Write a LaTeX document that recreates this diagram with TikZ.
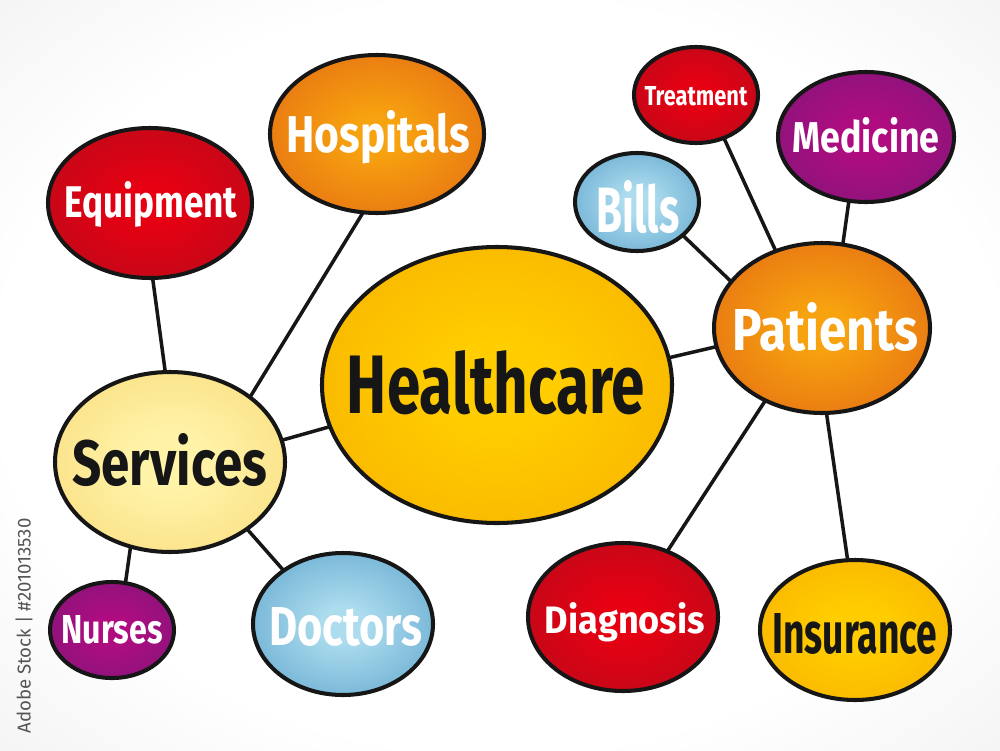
\documentclass[tikz,border=0pt]{standalone}
\usepackage{fontspec}
\setmainfont{Fira Sans}
\usetikzlibrary{shapes.geometric}
\newlength\px \setlength\px{0.2mm}
\definecolor{redin}{HTML}{E60012}\definecolor{redout}{HTML}{A3101F}
\definecolor{orin}{HTML}{F7A20F}\definecolor{orout}{HTML}{DA4F16}
\definecolor{ylin}{HTML}{FFCD00}\definecolor{ylout}{HTML}{F4A200}
\definecolor{plin}{HTML}{FFF3A8}\definecolor{plout}{HTML}{F6CF66}
\definecolor{puin}{HTML}{B00C80}\definecolor{puout}{HTML}{6B1A77}
\definecolor{blin}{HTML}{ACDCEE}\definecolor{blout}{HTML}{3C8BBD}
\definecolor{bgout}{HTML}{E6E6E6}
\definecolor{ink}{HTML}{161616}
\definecolor{wmgray}{HTML}{555555}
\pgfdeclareradialshading{redsh}{\pgfpoint{0bp}{0bp}}{color(0bp)=(redin); color(6bp)=(redin); color(50bp)=(redout)}
\pgfdeclareradialshading{orsh}{\pgfpoint{0bp}{0bp}}{color(0bp)=(orin); color(6bp)=(orin); color(50bp)=(orout)}
\pgfdeclareradialshading{ylsh}{\pgfpoint{0bp}{0bp}}{color(0bp)=(ylin); color(8bp)=(ylin); color(50bp)=(ylout)}
\pgfdeclareradialshading{plsh}{\pgfpoint{0bp}{0bp}}{color(0bp)=(plin); color(8bp)=(plin); color(50bp)=(plout)}
\pgfdeclareradialshading{push}{\pgfpoint{0bp}{0bp}}{color(0bp)=(puin); color(6bp)=(puin); color(50bp)=(puout)}
\pgfdeclareradialshading{blsh}{\pgfpoint{0bp}{0bp}}{color(0bp)=(blin); color(6bp)=(blin); color(50bp)=(blout)}
\pgfdeclareradialshading{bgsh}{\pgfpoint{0bp}{0bp}}{color(0bp)=(white); color(25bp)=(white); color(50bp)=(bgout)}
\pgfdeclarelayer{bgl}\pgfdeclarelayer{lnk}\pgfsetlayers{bgl,lnk,main}
\tikzset{
  bubble/.style={ellipse, draw=ink, line width=2.3pt, inner sep=0pt, outer sep=0pt},
  link/.style={draw=ink, line width=2pt},
  wlab/.style={text=white, font=\bfseries, anchor=base, inner sep=0pt, outer sep=0pt},
  blab/.style={text=ink, font=\bfseries, anchor=base, inner sep=0pt, outer sep=0pt}
}
\newcommand\fitlab[3]{\resizebox{#1\px}{#2\px}{#3}}
\begin{document}
\begin{tikzpicture}[x=0.2mm, y=-0.2mm]
\useasboundingbox (0,0) rectangle (1000,750);
\begin{pgfonlayer}{bgl}
\shade[shading=bgsh] (0,0) rectangle (1000,750);
\end{pgfonlayer}
% bubbles
\node[bubble, shading=ylsh, minimum width=350\px, minimum height=276\px] (hc) at (497,385) {};
\node[bubble, shading=plsh, minimum width=230\px, minimum height=180\px] (serv) at (170,462) {};
\node[bubble, shading=orsh, minimum width=214\px, minimum height=158\px] (hosp) at (377,134) {};
\node[bubble, shading=redsh, minimum width=204\px, minimum height=150\px] (equip) at (150,203) {};
\node[bubble, shading=push, minimum width=124\px, minimum height=96\px] (nurse) at (112,630) {};
\node[bubble, shading=blsh, minimum width=180\px, minimum height=142\px] (doc) at (343,624) {};
\node[bubble, shading=orsh, minimum width=216\px, minimum height=170\px] (pat) at (822,328) {};
\node[bubble, shading=redsh, minimum width=124\px, minimum height=96\px] (treat) at (696,95) {};
\node[bubble, shading=push, minimum width=176\px, minimum height=130\px] (med) at (866,137) {};
\node[bubble, shading=blsh, minimum width=124\px, minimum height=98\px] (bill) at (637,202) {};
\node[bubble, shading=redsh, minimum width=190\px, minimum height=148\px] (diag) at (623,617) {};
\node[bubble, shading=ylsh, minimum width=190\px, minimum height=140\px] (ins) at (855,630) {};
% labels
\node[blab] (hcT) at (496,413) {\fitlab{298}{63}{Healthcare}};
\node[blab] (servT) at (170,485) {\fitlab{195}{52}{Services}};
\node[wlab] (hospT) at (378,152) {\fitlab{183}{42}{Hospitals}};
\node[wlab] (equipT) at (151,217) {\fitlab{173}{36}{Equipment}};
\node[wlab] (nurseT) at (112,643) {\fitlab{101}{28}{Nurses}};
\node[wlab] (docT) at (346,645) {\fitlab{153}{38}{Doctors}};
\node[wlab] (patT) at (825,350) {\fitlab{186}{48}{Patients}};
\node[wlab] (treatT) at (696,105) {\fitlab{103}{19}{Treatment}};
\node[wlab] (medT) at (866,152) {\fitlab{147}{35}{Medicine}};
\node[wlab] (billT) at (638,232) {\fitlab{83}{52}{Bills}};
\node[wlab] (diagT) at (625,633) {\fitlab{160}{31}{Diagnosis}};
\node[blab] (insT) at (855,653) {\fitlab{165}{40}{Insurance}};
% watermark
\node[rotate=90, text=wmgray, inner sep=0pt] (wm) at (24,626) {\resizebox{215\px}{!}{Adobe Stock | \#201013530}};
% connectors
\begin{pgfonlayer}{lnk}
\draw[link] (hc.194.7) -- (serv.11);
\draw[link] (hc.9) -- (pat.190.6);
\draw[link] (serv.93) -- (equip.-88.5);
\draw[link] (serv.39) -- (hosp.-100.7);
\draw[link] (serv.-115) -- (nurse.74.5);
\draw[link] (serv.-41) -- (doc.138);
\draw[link] (pat.121.5) -- (treat.-57);
\draw[link] (pat.76) -- (med.-105.5);
\draw[link] (pat.153) -- (bill.-36);
\draw[link] (pat.-128.5) -- (diag.56);
\draw[link] (pat.-87) -- (ins.96);
\end{pgfonlayer}
\end{tikzpicture}
\end{document}
